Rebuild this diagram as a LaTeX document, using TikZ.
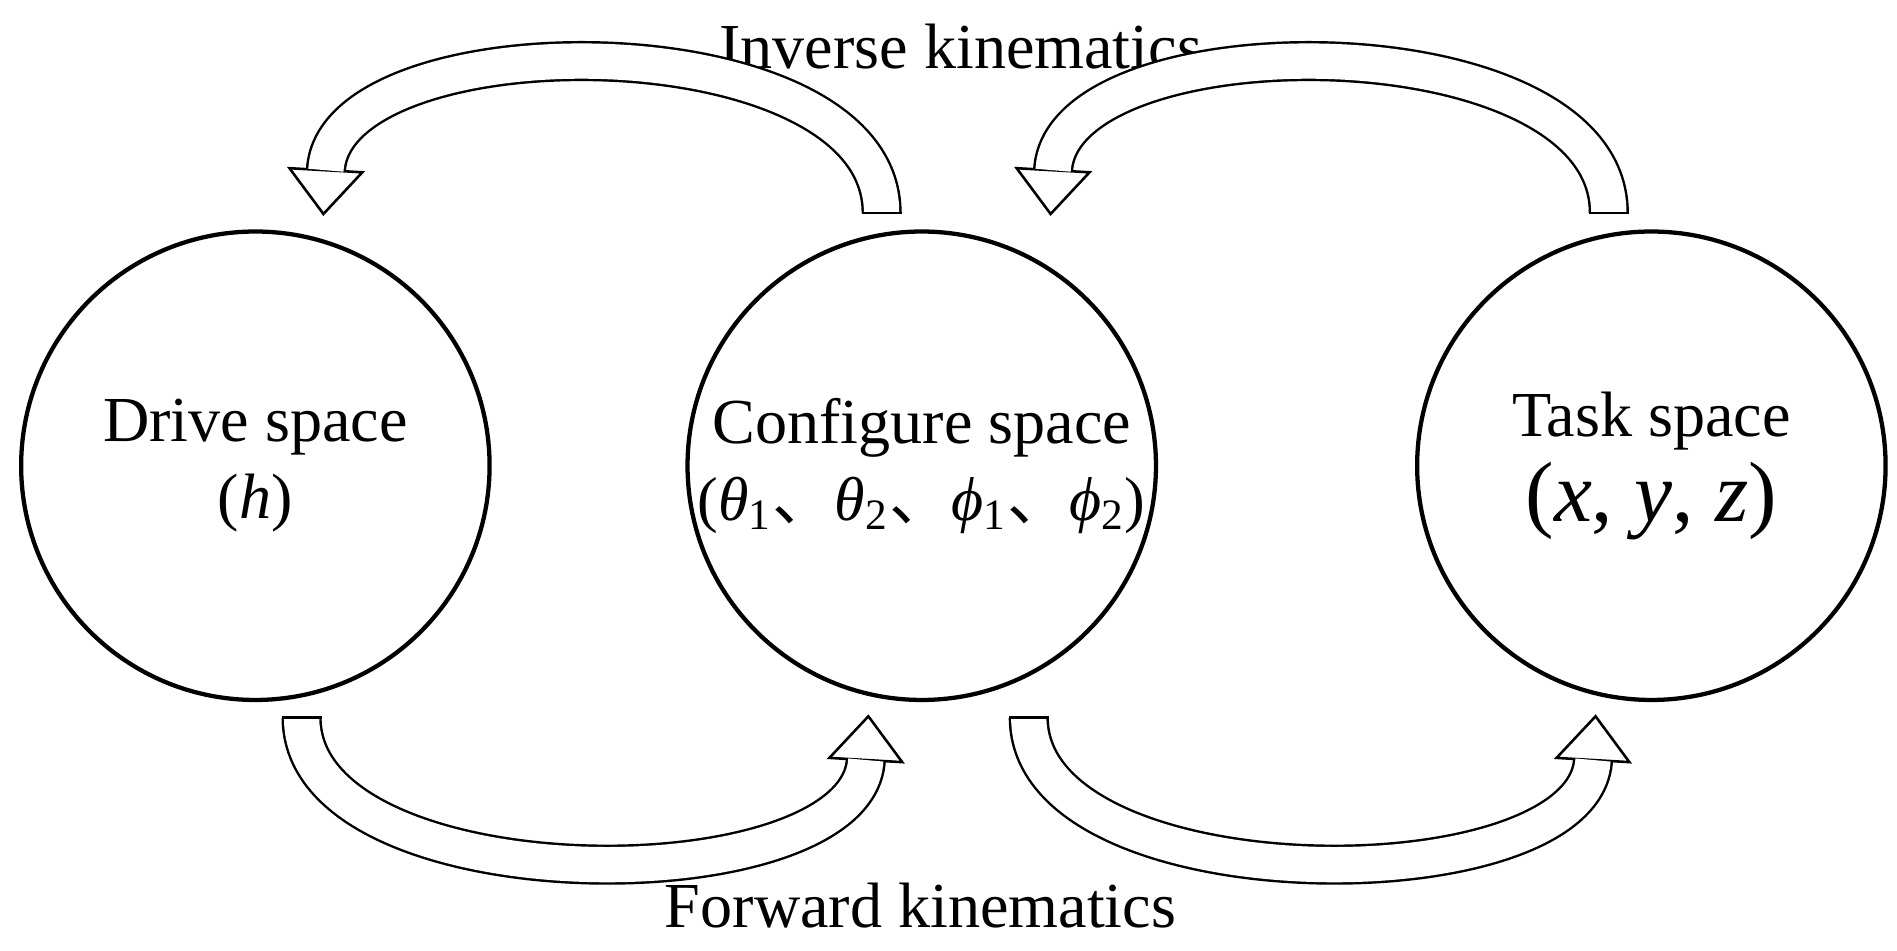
\documentclass[tikz,border=0pt]{standalone}
\usepackage{fontspec}
\setmainfont{Liberation Serif}
\newfontfamily\cjk{Noto Sans CJK SC}
\usetikzlibrary{calc}
\tikzset{
  space/.style={circle, draw, line width=1pt, inner sep=0pt, minimum size=3.85cm, align=center, font=\fontsize{15}{18}\selectfont},
  lbl/.style={font=\fontsize{15}{18}\selectfont}
}
\newcommand\harrow[4]{%
  \draw[line width=0.33cm] (#1) .. controls (#2) and (#3) .. (#4);
  \draw[fill=white, line width=0.6pt, line join=miter] ($(#4)!0.3cm!90:(#3)$) -- ($(#4)!-0.36cm!(#3)$) -- ($(#4)!0.3cm!-90:(#3)$) -- cycle;
  \draw[line width=0.29cm, white] (#1) .. controls (#2) and (#3) .. (#4);
  \draw[line width=0.6pt] ($(#1)!0.165cm!90:(#2)$) -- ($(#1)!0.165cm!-90:(#2)$);
}
\newcommand\ds{{\cjk 、}}
\begin{document}
\begin{tikzpicture}[x=0.01cm,y=-0.01cm]
\useasboundingbox (0,0) rectangle (1560,782);
\node[space] (drive) at (210,383) {Drive space\\(\textit{h})};
\node[space] (conf) at (758,383) {Configure space\\{\fontsize{14.5}{18}\selectfont(\textit{θ}\textsubscript{1}\ds\textit{θ}\textsubscript{2}\ds\textit{ϕ}\textsubscript{1}\ds\textit{ϕ}\textsubscript{2})}};
\node[space] (task) at (1358,383) {Task space\\[2pt]{\fontsize{20}{22}\selectfont(\textit{x}, \textit{y}, \textit{z})}};
\node[lbl] (inv) at (790,38) {Inverse kinematics};
\node[lbl] (fwd) at (757,745) {Forward kinematics};
\coordinate (t1) at (725,175); \coordinate (e1) at (268,140);
\coordinate (t2) at (1323,175); \coordinate (e2) at (866,140);
\coordinate (t3) at (248,590); \coordinate (e3) at (712,625);
\coordinate (t4) at (846,590); \coordinate (e4) at (1310,625);
\harrow{t1}{725,15}{275,15}{e1}
\harrow{t2}{1323,15}{873,15}{e2}
\harrow{t3}{248,745}{705,745}{e3}
\harrow{t4}{846,745}{1303,745}{e4}
\end{tikzpicture}
\end{document}
